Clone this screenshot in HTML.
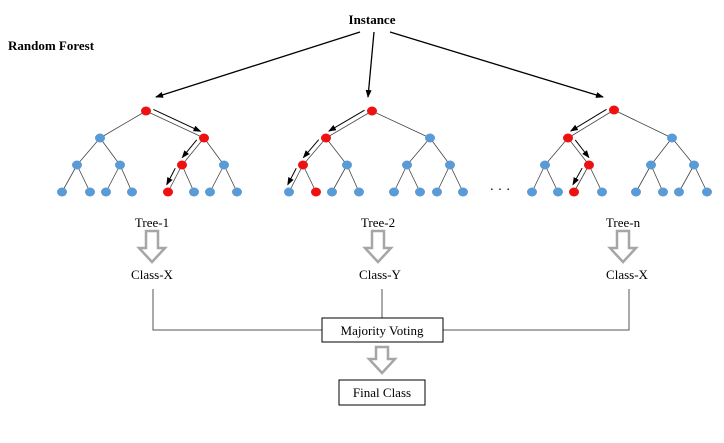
<!DOCTYPE html>
<html><head><meta charset="utf-8"><style>
body{margin:0;background:#fff;width:724px;height:438px;overflow:hidden}
text{font-family:"Liberation Serif",serif}
</style></head><body>
<svg id="s" width="724" height="438" xmlns="http://www.w3.org/2000/svg">
<defs><marker id="ah" markerWidth="8" markerHeight="6" refX="7" refY="3" orient="auto" markerUnits="userSpaceOnUse"><path d="M0,0 L8,3 L0,6 z" fill="#000"/></marker></defs>
<text x="8" y="50" font-size="13" font-weight="bold">Random Forest</text>
<text x="372" y="24" font-size="13" font-weight="bold" text-anchor="middle">Instance</text>
<g stroke="#000" stroke-width="1.3" marker-end="url(#ah)">
<line x1="360" y1="32" x2="156" y2="97"/>
<line x1="374" y1="32" x2="368" y2="97"/>
<line x1="390" y1="32" x2="603" y2="97"/>
</g>
<g id="trees"></g>
<text x="500" y="194" font-size="14" text-anchor="middle">· · ·</text>
<g font-size="13" text-anchor="middle">
<text x="152" y="227">Tree-1</text><text x="378" y="227">Tree-2</text><text x="623" y="227">Tree-n</text>
<text x="152" y="279">Class-X</text><text x="380" y="279">Class-Y</text><text x="627" y="279">Class-X</text>
</g>
<g fill="#fff" stroke="#a6a6a6" stroke-width="2.5">
<path d="M146,231 h12 v17 h7 l-13,14 l-13,-14 h7 z"/>
<path d="M372,231 h12 v17 h7 l-13,14 l-13,-14 h7 z"/>
<path d="M617,231 h12 v17 h7 l-13,14 l-13,-14 h7 z"/>
<path d="M376,347 h12 v12 h7 l-13,14 l-13,-14 h7 z"/>
</g>
<g stroke="#555" stroke-width="1" fill="none">
<polyline points="153,289 153,330 322,330"/>
<polyline points="629,289 629,330 443,330"/>
<line x1="382" y1="289" x2="382" y2="318"/>
</g>
<rect x="322" y="318" width="121" height="24" fill="#fff" stroke="#000"/>
<text x="382" y="335" font-size="13" text-anchor="middle">Majority Voting</text>
<rect x="339" y="380" width="86" height="25" fill="#fff" stroke="#000"/>
<text x="382" y="397" font-size="13" text-anchor="middle">Final Class</text>
</svg>
<script>
var NS="http://www.w3.org/2000/svg",g=document.getElementById("trees");
function el(n,a){var e=document.createElementNS(NS,n);for(var k in a)e.setAttribute(k,a[k]);g.appendChild(e);return e}
var T=[
{r:[146,111],l1:[100,204],l2:[77,120,182,224],l3:[62,90,106,132,168,194,210,237],red:[1,2,4],path:[[146,111,204,138],[204,138,182,165],[182,165,168,192]]},
{r:[372,111],l1:[326,430],l2:[303,347,407,450],l3:[289,316,332,359,394,420,437,463],red:[0,0,1],path:[[372,111,326,138],[326,138,303,165],[303,165,289,192]]},
{r:[614,110],l1:[568,672],l2:[545,589,651,694],l3:[532,558,574,602,636,663,679,707],red:[0,1,2],path:[[614,110,568,138],[568,138,589,165],[589,165,574,192]]}
];
T.forEach(function(t){
 var y1=138,y2=165,y3=192,E=[];
 t.l1.forEach(function(x,i){E.push([t.r[0],t.r[1],x,y1])});
 t.l2.forEach(function(x,i){E.push([t.l1[i>>1],y1,x,y2])});
 t.l3.forEach(function(x,i){E.push([t.l2[i>>1],y2,x,y3])});
 E.forEach(function(e){el("line",{x1:e[0],y1:e[1],x2:e[2],y2:e[3],stroke:"#444","stroke-width":0.8})});
 t.path.forEach(function(p){
  var dx=p[2]-p[0],dy=p[3]-p[1],L=Math.hypot(dx,dy),ux=dx/L,uy=dy/L;
  var nx=uy,ny=-ux; if(ny>0){nx=-nx;ny=-ny}
  var o=4.5,s=6;
  el("line",{x1:p[0]+ux*s+nx*o,y1:p[1]+uy*s+ny*o,x2:p[2]-ux*s+nx*o,y2:p[3]-uy*s+ny*o,stroke:"#000","stroke-width":1,"marker-end":"url(#ah)"});
 });
 var nodes=[[t.r[0],t.r[1],1]];
 t.l1.forEach(function(x,i){nodes.push([x,y1,i==t.red[0]?1:0])});
 t.l2.forEach(function(x,i){nodes.push([x,y2,i==t.red[1]?1:0])});
 t.l3.forEach(function(x,i){nodes.push([x,y3,i==t.red[2]?1:0])});
 nodes.forEach(function(n){el("ellipse",{cx:n[0],cy:n[1],rx:5,ry:4.5,fill:n[2]?"#ee1111":"#5b9bd5"})});
});
</script>
</body></html>
